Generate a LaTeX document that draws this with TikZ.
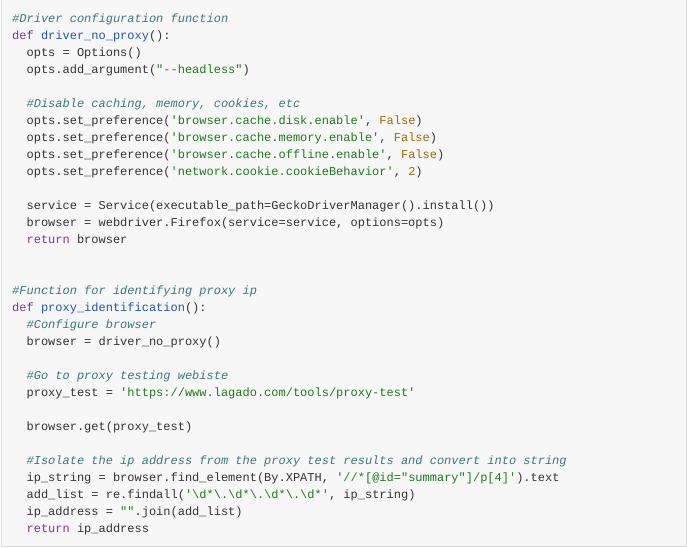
\documentclass[tikz,border=0pt]{standalone}
\usepackage{fontspec}
\setmonofont{Liberation Mono}
\definecolor{bgc}{HTML}{F7F7F7}
\definecolor{bdc}{HTML}{DDDDDD}
\definecolor{txt}{HTML}{333333}
\definecolor{cmt}{HTML}{3D7878}
\definecolor{kw}{HTML}{7B3795}
\definecolor{str}{HTML}{1E7A1E}
\definecolor{num}{HTML}{A06A00}
\definecolor{fn}{HTML}{2456A6}
\newcommand{\Cm}[1]{\textcolor{cmt}{\itshape #1}}
\newcommand{\Kw}[1]{\textcolor{kw}{#1}}
\newcommand{\St}[1]{\textcolor{str}{#1}}
\newcommand{\Nu}[1]{\textcolor{num}{#1}}
\newcommand{\Fn}[1]{\textcolor{fn}{#1}}
\newcommand{\bs}{\textbackslash}
\begin{document}
\begin{tikzpicture}[x=1pt,y=-1pt,
  codeline/.style={anchor=west,inner sep=0pt,text height=9pt,text depth=3pt,font=\ttfamily\fontsize{12}{14}\selectfont,text=txt}]
\useasboundingbox (0,0) rectangle (687,547);
\draw[bdc,fill=bgc] (1,-1) rectangle (686,546);
\foreach \t [count=\i from 0] in {
{\Cm{\#Driver configuration function}},
{\Kw{def} \Fn{driver\_no\_proxy}():},
{\ \ opts = Options()},
{\ \ opts.add\_argument(\St{"-{}-headless"})},
{},
{\ \ \Cm{\#Disable caching, memory, cookies, etc}},
{\ \ opts.set\_preference(\St{'browser.cache.disk.enable'}, \Nu{False})},
{\ \ opts.set\_preference(\St{'browser.cache.memory.enable'}, \Nu{False})},
{\ \ opts.set\_preference(\St{'browser.cache.offline.enable'}, \Nu{False})},
{\ \ opts.set\_preference(\St{'network.cookie.cookieBehavior'}, \Nu{2})},
{},
{\ \ service = Service(executable\_path=GeckoDriverManager().install())},
{\ \ browser = webdriver.Firefox(service=service, options=opts)},
{\ \ \Kw{return} browser},
{},
{},
{\Cm{\#Function for identifying proxy ip}},
{\Kw{def} \Fn{proxy\_identification}():},
{\ \ \Cm{\#Configure browser}},
{\ \ browser = driver\_no\_proxy()},
{},
{\ \ \Cm{\#Go to proxy testing webiste}},
{\ \ proxy\_test = \St{'https://www.lagado.com/tools/proxy-test'}},
{},
{\ \ browser.get(proxy\_test)},
{},
{\ \ \Cm{\#Isolate the ip address from the proxy test results and convert into string}},
{\ \ ip\_string = browser.find\_element(By.XPATH, \St{'//*[@id="summary"]/p[4]'}).text},
{\ \ add\_list = re.findall(\St{'\bs d*\bs.\bs d*\bs.\bs d*\bs.\bs d*'}, ip\_string)},
{\ \ ip\_address = \St{""}.join(add\_list)},
{\ \ \Kw{return} ip\_address}
}{
  \node[codeline] (l\i) at (12,{19+17.03*\i}) {\t};
}
\end{tikzpicture}
\end{document}
